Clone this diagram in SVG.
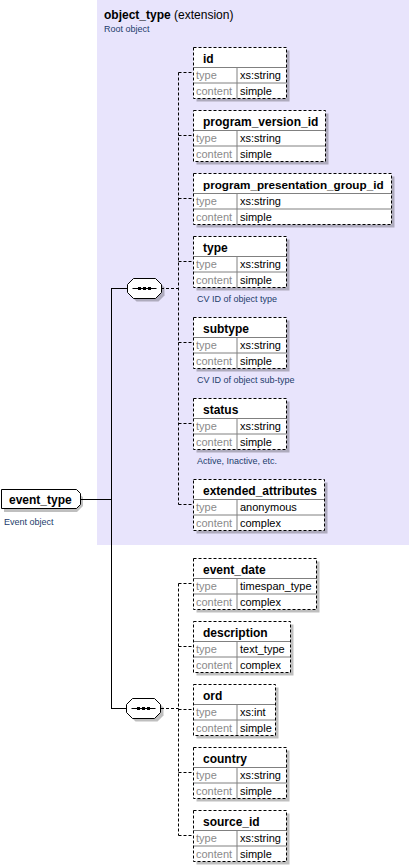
<svg xmlns="http://www.w3.org/2000/svg" width="409" height="866" viewBox="0 0 409 866">
<style>
text{font-family:"Liberation Sans",Arial,sans-serif}
.hd{font-size:12px;font-weight:bold;fill:#000}
.lb{font-size:11px;fill:#8a8a8a}
.vl{font-size:11px;fill:#000}
.an{font-size:9px;fill:#1c3c6c}
.sh{fill:#000;fill-opacity:0.25}
.bx{fill:#fff}
.bd{fill:none;stroke:#000;stroke-width:1;stroke-dasharray:3,2}
.rl{stroke:#808080;stroke-width:1}
.sol{fill:none;stroke:#000;stroke-width:1}
.dsh{fill:none;stroke:#000;stroke-width:1;stroke-dasharray:3,2}
</style>
<defs>
<g id="seq">
<polygon class="sh" points="3,9 9,3 31,3 37,9 37,17 31,23 9,23 3,17"/>
<polygon points="0,6 6,0 28,0 34,6 34,14 28,20 6,20 0,14" fill="#fff" stroke="#000" stroke-width="1"/>
<line x1="5" y1="10" x2="29" y2="10" stroke="#000" stroke-width="1"/>
<rect x="10.5" y="8.5" width="3" height="3" fill="#000"/>
<rect x="15.5" y="8.5" width="3" height="3" fill="#000"/>
<rect x="20.5" y="8.5" width="3" height="3" fill="#000"/>
</g>
</defs>
<rect x="97" y="0" width="312" height="545" fill="#e8e4fc"/>
<g id="object_type_label">
<text x="104" y="19" class="hd">object_type <tspan font-weight="normal">(extension)</tspan></text>
<text x="104" y="32" class="an">Root object</text>
</g>
<g id="connectors">
<line class="sol" x1="80" y1="499.5" x2="111.5" y2="499.5"/>
<line class="sol" x1="111.5" y1="288.5" x2="111.5" y2="708.5"/>
<line class="sol" x1="111" y1="288.5" x2="127" y2="288.5"/>
<line class="sol" x1="111" y1="708.5" x2="126" y2="708.5"/>
<line class="dsh" x1="161" y1="288.5" x2="178.5" y2="288.5"/>
<line class="dsh" x1="178.5" y1="72.5" x2="178.5" y2="504.5"/>
<line class="dsh" x1="178.5" y1="72.5" x2="193" y2="72.5"/>
<line class="dsh" x1="178.5" y1="135.5" x2="193" y2="135.5"/>
<line class="dsh" x1="178.5" y1="198.5" x2="193" y2="198.5"/>
<line class="dsh" x1="178.5" y1="261.5" x2="193" y2="261.5"/>
<line class="dsh" x1="178.5" y1="342.5" x2="193" y2="342.5"/>
<line class="dsh" x1="178.5" y1="423.5" x2="193" y2="423.5"/>
<line class="dsh" x1="178.5" y1="504.5" x2="193" y2="504.5"/>
<line class="dsh" x1="161" y1="708.5" x2="178.5" y2="708.5"/>
<line class="dsh" x1="178.5" y1="583.5" x2="178.5" y2="835.5"/>
<line class="dsh" x1="178.5" y1="583.5" x2="193" y2="583.5"/>
<line class="dsh" x1="178.5" y1="646.5" x2="193" y2="646.5"/>
<line class="dsh" x1="178.5" y1="709.5" x2="193" y2="709.5"/>
<line class="dsh" x1="178.5" y1="772.5" x2="193" y2="772.5"/>
<line class="dsh" x1="178.5" y1="835.5" x2="193" y2="835.5"/>
</g>
<g id="event_type">
<polygon class="sh" points="4,493 77,493 83,497 83,506 77,512 4,512"/>
<polygon points="1.5,489.5 76.5,489.5 80.5,493.5 80.5,504.5 76.5,508.5 1.5,508.5" fill="#fff" stroke="#000" stroke-width="1"/>
<text x="9" y="503.5" class="hd">event_type</text>
<text x="4" y="525" class="an">Event object</text>
</g>
<g id="seq1" transform="translate(127.5,278.5)"><use href="#seq"/></g>
<g id="seq2" transform="translate(126.5,698.5)"><use href="#seq"/></g>

<g id="id" transform="translate(193.5,47.5)">
<rect class="sh" x="3" y="3" width="93" height="51"/><rect class="bx" width="93" height="51"/>
<line class="rl" x1="0" y1="20" x2="93" y2="20"/><line class="rl" x1="0" y1="35.5" x2="93" y2="35.5"/><line class="rl" x1="43.5" y1="20" x2="43.5" y2="51"/>
<rect class="bd" width="93" height="51"/>
<text x="9.5" y="15" class="hd">id</text>
<text x="2.5" y="31.5" class="lb">type</text><text x="46.5" y="31.5" class="vl">xs:string</text>
<text x="2.5" y="47" class="lb">content</text><text x="46.5" y="47" class="vl">simple</text>
</g>
<g id="program_version_id" transform="translate(193.5,110.5)">
<rect class="sh" x="3" y="3" width="132" height="51"/><rect class="bx" width="132" height="51"/>
<line class="rl" x1="0" y1="20" x2="132" y2="20"/><line class="rl" x1="0" y1="35.5" x2="132" y2="35.5"/><line class="rl" x1="43.5" y1="20" x2="43.5" y2="51"/>
<rect class="bd" width="132" height="51"/>
<text x="9.5" y="15" class="hd">program_version_id</text>
<text x="2.5" y="31.5" class="lb">type</text><text x="46.5" y="31.5" class="vl">xs:string</text>
<text x="2.5" y="47" class="lb">content</text><text x="46.5" y="47" class="vl">simple</text>
</g>
<g id="program_presentation_group_id" transform="translate(193.5,173.5)">
<rect class="sh" x="3" y="3" width="198" height="51"/><rect class="bx" width="198" height="51"/>
<line class="rl" x1="0" y1="20" x2="198" y2="20"/><line class="rl" x1="0" y1="35.5" x2="198" y2="35.5"/><line class="rl" x1="43.5" y1="20" x2="43.5" y2="51"/>
<rect class="bd" width="198" height="51"/>
<text x="9.5" y="15" class="hd" style="font-size:11.7px">program_presentation_group_id</text>
<text x="2.5" y="31.5" class="lb">type</text><text x="46.5" y="31.5" class="vl">xs:string</text>
<text x="2.5" y="47" class="lb">content</text><text x="46.5" y="47" class="vl">simple</text>
</g>
<g id="type" transform="translate(193.5,236.5)">
<rect class="sh" x="3" y="3" width="93" height="51"/><rect class="bx" width="93" height="51"/>
<line class="rl" x1="0" y1="20" x2="93" y2="20"/><line class="rl" x1="0" y1="35.5" x2="93" y2="35.5"/><line class="rl" x1="43.5" y1="20" x2="43.5" y2="51"/>
<rect class="bd" width="93" height="51"/>
<text x="9.5" y="15" class="hd">type</text>
<text x="2.5" y="31.5" class="lb">type</text><text x="46.5" y="31.5" class="vl">xs:string</text>
<text x="2.5" y="47" class="lb">content</text><text x="46.5" y="47" class="vl">simple</text>
<text x="3.5" y="65" class="an">CV ID of object type</text>
</g>
<g id="subtype" transform="translate(193.5,317.5)">
<rect class="sh" x="3" y="3" width="93" height="51"/><rect class="bx" width="93" height="51"/>
<line class="rl" x1="0" y1="20" x2="93" y2="20"/><line class="rl" x1="0" y1="35.5" x2="93" y2="35.5"/><line class="rl" x1="43.5" y1="20" x2="43.5" y2="51"/>
<rect class="bd" width="93" height="51"/>
<text x="9.5" y="15" class="hd">subtype</text>
<text x="2.5" y="31.5" class="lb">type</text><text x="46.5" y="31.5" class="vl">xs:string</text>
<text x="2.5" y="47" class="lb">content</text><text x="46.5" y="47" class="vl">simple</text>
<text x="3.5" y="65" class="an">CV ID of object sub-type</text>
</g>
<g id="status" transform="translate(193.5,398.5)">
<rect class="sh" x="3" y="3" width="93" height="51"/><rect class="bx" width="93" height="51"/>
<line class="rl" x1="0" y1="20" x2="93" y2="20"/><line class="rl" x1="0" y1="35.5" x2="93" y2="35.5"/><line class="rl" x1="43.5" y1="20" x2="43.5" y2="51"/>
<rect class="bd" width="93" height="51"/>
<text x="9.5" y="15" class="hd">status</text>
<text x="2.5" y="31.5" class="lb">type</text><text x="46.5" y="31.5" class="vl">xs:string</text>
<text x="2.5" y="47" class="lb">content</text><text x="46.5" y="47" class="vl">simple</text>
<text x="3.5" y="65" class="an">Active, Inactive, etc.</text>
</g>
<g id="extended_attributes" transform="translate(193.5,479.5)">
<rect class="sh" x="3" y="3" width="131" height="51"/><rect class="bx" width="131" height="51"/>
<line class="rl" x1="0" y1="20" x2="131" y2="20"/><line class="rl" x1="0" y1="35.5" x2="131" y2="35.5"/><line class="rl" x1="43.5" y1="20" x2="43.5" y2="51"/>
<rect class="bd" width="131" height="51"/>
<text x="9.5" y="15" class="hd">extended_attributes</text>
<text x="2.5" y="31.5" class="lb">type</text><text x="46.5" y="31.5" class="vl">anonymous</text>
<text x="2.5" y="47" class="lb">content</text><text x="46.5" y="47" class="vl">complex</text>
</g>

<g id="event_date" transform="translate(193.5,558.5)">
<rect class="sh" x="3" y="3" width="123" height="51"/><rect class="bx" width="123" height="51"/>
<line class="rl" x1="0" y1="20" x2="123" y2="20"/><line class="rl" x1="0" y1="35.5" x2="123" y2="35.5"/><line class="rl" x1="43.5" y1="20" x2="43.5" y2="51"/>
<rect class="bd" width="123" height="51"/>
<text x="9.5" y="15" class="hd">event_date</text>
<text x="2.5" y="31.5" class="lb">type</text><text x="46.5" y="31.5" class="vl">timespan_type</text>
<text x="2.5" y="47" class="lb">content</text><text x="46.5" y="47" class="vl">complex</text>
</g>
<g id="description" transform="translate(193.5,621.5)">
<rect class="sh" x="3" y="3" width="97" height="51"/><rect class="bx" width="97" height="51"/>
<line class="rl" x1="0" y1="20" x2="97" y2="20"/><line class="rl" x1="0" y1="35.5" x2="97" y2="35.5"/><line class="rl" x1="43.5" y1="20" x2="43.5" y2="51"/>
<rect class="bd" width="97" height="51"/>
<text x="9.5" y="15" class="hd">description</text>
<text x="2.5" y="31.5" class="lb">type</text><text x="46.5" y="31.5" class="vl">text_type</text>
<text x="2.5" y="47" class="lb">content</text><text x="46.5" y="47" class="vl">complex</text>
</g>
<g id="ord" transform="translate(193.5,684.5)">
<rect class="sh" x="3" y="3" width="82" height="51"/><rect class="bx" width="82" height="51"/>
<line class="rl" x1="0" y1="20" x2="82" y2="20"/><line class="rl" x1="0" y1="35.5" x2="82" y2="35.5"/><line class="rl" x1="43.5" y1="20" x2="43.5" y2="51"/>
<rect class="bd" width="82" height="51"/>
<text x="9.5" y="15" class="hd">ord</text>
<text x="2.5" y="31.5" class="lb">type</text><text x="46.5" y="31.5" class="vl">xs:int</text>
<text x="2.5" y="47" class="lb">content</text><text x="46.5" y="47" class="vl">simple</text>
</g>
<g id="country" transform="translate(193.5,747.5)">
<rect class="sh" x="3" y="3" width="93" height="51"/><rect class="bx" width="93" height="51"/>
<line class="rl" x1="0" y1="20" x2="93" y2="20"/><line class="rl" x1="0" y1="35.5" x2="93" y2="35.5"/><line class="rl" x1="43.5" y1="20" x2="43.5" y2="51"/>
<rect class="bd" width="93" height="51"/>
<text x="9.5" y="15" class="hd">country</text>
<text x="2.5" y="31.5" class="lb">type</text><text x="46.5" y="31.5" class="vl">xs:string</text>
<text x="2.5" y="47" class="lb">content</text><text x="46.5" y="47" class="vl">simple</text>
</g>
<g id="source_id" transform="translate(193.5,810.5)">
<rect class="sh" x="3" y="3" width="93" height="51"/><rect class="bx" width="93" height="51"/>
<line class="rl" x1="0" y1="20" x2="93" y2="20"/><line class="rl" x1="0" y1="35.5" x2="93" y2="35.5"/><line class="rl" x1="43.5" y1="20" x2="43.5" y2="51"/>
<rect class="bd" width="93" height="51"/>
<text x="9.5" y="15" class="hd">source_id</text>
<text x="2.5" y="31.5" class="lb">type</text><text x="46.5" y="31.5" class="vl">xs:string</text>
<text x="2.5" y="47" class="lb">content</text><text x="46.5" y="47" class="vl">simple</text>
</g>
</svg>
